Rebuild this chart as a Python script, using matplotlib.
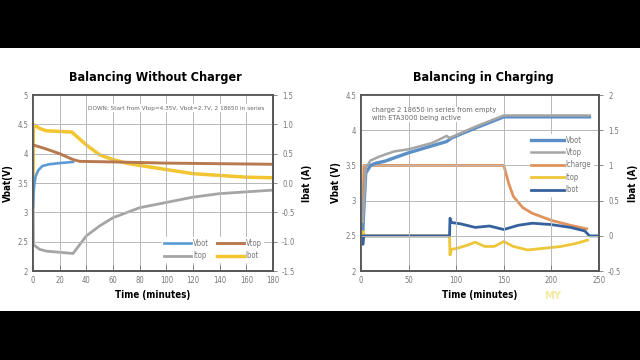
import matplotlib
matplotlib.use("Agg")
from matplotlib import pyplot as plt
from matplotlib.patches import Rectangle

plt.rcParams["font.family"] = ["Liberation Sans Narrow", "DejaVu Sans"]
plt.rcParams["font.stretch"] = "condensed"

# left chart: balancing without charger
t_vbot1 = [0, 0.5, 1, 2, 4, 7, 12, 20, 30]
vbot1 = [3.1, 3.35, 3.48, 3.62, 3.72, 3.79, 3.82, 3.84, 3.86]
t_vtop1 = [0, 10, 20, 30, 35, 60, 100, 140, 180]
vtop1 = [4.15, 4.08, 4.0, 3.9, 3.87, 3.86, 3.84, 3.83, 3.82]
t_itop1 = [0, 0.3, 5, 10, 20, 30, 40, 50, 60, 80, 100, 120, 140, 160, 180]
itop1 = [-0.05, -1.05, -1.13, -1.16, -1.18, -1.2, -0.9, -0.73, -0.59, -0.42,
         -0.33, -0.24, -0.18, -0.15, -0.12]
t_ibot1 = [0, 0.3, 5, 10, 20, 29, 40, 50, 60, 70, 80, 100, 120, 140, 160, 180]
ibot1 = [0.0, 1.0, 0.93, 0.89, 0.88, 0.87, 0.65, 0.48, 0.40, 0.34, 0.30,
         0.23, 0.16, 0.13, 0.10, 0.09]

# right chart: balancing in charging
t_vbot2 = [2, 5, 10, 15, 25, 50, 75, 90, 95, 120, 150, 240]
vbot2 = [2.6, 3.39, 3.5, 3.53, 3.56, 3.68, 3.78, 3.84, 3.89, 4.03, 4.19, 4.19]
t_vtop2 = [2, 5, 10, 20, 35, 50, 75, 90, 93, 120, 150, 240]
vtop2 = [2.7, 3.46, 3.57, 3.63, 3.7, 3.73, 3.82, 3.92, 3.89, 4.05, 4.21, 4.21]
t_ich2 = [2, 3, 150, 155, 160, 170, 180, 200, 220, 237]
ich2 = [0.2, 1.0, 1.0, 0.75, 0.56, 0.40, 0.32, 0.22, 0.15, 0.10]
t_itop2 = [1, 2, 3, 93, 93.5, 95, 100, 110, 120, 130, 140, 150, 160, 175,
           190, 210, 225, 238]
itop2 = [0.0, 0.15, 0.0, 0.0, -0.27, -0.19, -0.18, -0.14, -0.09, -0.15,
         -0.15, -0.08, -0.15, -0.2, -0.18, -0.15, -0.11, -0.06]
t_ibot2 = [0, 1.5, 2, 3, 93, 93.5, 95, 105, 120, 135, 150, 165, 180, 200,
           220, 235, 240, 250]
ibot2 = [0.0, 0.0, -0.12, 0.0, 0.0, 0.25, 0.19, 0.17, 0.12, 0.14, 0.09,
         0.15, 0.18, 0.16, 0.12, 0.07, 0.0, 0.0]

spine_c = "#555555"
tick_c = "#777777"
grid_c = "#b8b8b8"


def style(ax, ax2):
    for a in (ax, ax2):
        for s in a.spines.values():
            s.set_color(spine_c)
            s.set_linewidth(1.2)
        a.tick_params(labelsize=5.5, labelcolor=tick_c, colors=tick_c,
                      length=3, width=0.6)
    ax.tick_params(axis="y", length=0)
    ax.tick_params(axis="x", direction="in", length=4)
    ax.grid(True, color=grid_c, linewidth=0.7)
    ax.set_axisbelow(True)
    ax2.grid(False)
    # voltage axis (with the grid) drawn above the current axis
    ax.set_zorder(ax2.get_zorder() + 1)
    ax.patch.set_visible(False)


fig = plt.figure(figsize=(6.4, 3.6), dpi=100)
fig.patch.set_facecolor("black")
fig.patches.append(Rectangle((0, 0.136), 1, 0.731, transform=fig.transFigure,
                             facecolor="white", edgecolor="none", zorder=-10))

# ---- left ----
ax = fig.add_axes([0.0516, 0.247, 0.375, 0.489])
ax2 = ax.twinx()
ax.set_xlim(0, 180)
ax.set_ylim(2, 5)
ax2.set_ylim(-1.5, 1.5)
ax.set_xticks(range(0, 181, 20))
ax.set_yticks([2, 2.5, 3, 3.5, 4, 4.5, 5])
ax.set_yticklabels(["2", "2.5", "3", "3.5", "4", "4.5", "5"])
ax2.set_yticks([-1.5, -1.0, -0.5, 0, 0.5, 1.0, 1.5])
ax2.set_yticklabels(["-1.5", "-1.0", "-0.5", "0.0", "0.5", "1.0", "1.5"])
style(ax, ax2)

l1, = ax.plot(t_vbot1, vbot1, color="#5b9bd5", lw=1.9)
l2, = ax.plot(t_vtop1, vtop1, color="#b9794f", lw=2.1)
l3, = ax2.plot(t_itop1, itop1, color="#a5a5a5", lw=2.0)
l4, = ax2.plot(t_ibot1, ibot1, color="#f2c531", lw=2.5)

ax.text(0.965, 0.925, "DOWN: Start from Vtop=4.35V, Vbot=2.7V, 2 18650 in series",
        transform=ax.transAxes, ha="right", va="center", fontsize=4.6,
        color="#666666", zorder=1,
        bbox=dict(facecolor="white", edgecolor="none", pad=1))
ax.legend([l1, l3, l2, l4], ["Vbot", "Itop", "Vtop", "Ibot"], ncol=2,
          loc="lower right", bbox_to_anchor=(0.975, 0.03), fontsize=5.5,
          frameon=True, framealpha=1, edgecolor="white", handlelength=3.6,
          handletextpad=0.2, columnspacing=1.0, labelspacing=0.5,
          borderpad=0.2, labelcolor="#777777")
ax.set_xlabel("Time (minutes)", fontsize=7, fontweight="bold", labelpad=4)
ax.set_ylabel("Vbat(V)", fontsize=7, fontweight="bold", labelpad=3)
ax2.set_ylabel("Ibat (A)", fontsize=7, fontweight="bold", labelpad=5)
fig.text(0.242, 0.786, "Balancing Without Charger", ha="center", va="center",
         fontsize=9, fontweight="bold")

# ---- right ----
bx = fig.add_axes([0.564, 0.247, 0.372, 0.489])
bx2 = bx.twinx()
bx.set_xlim(0, 250)
bx.set_ylim(2, 4.5)
bx2.set_ylim(-0.5, 2)
bx.set_xticks(range(0, 251, 50))
bx.set_yticks([2, 2.5, 3, 3.5, 4, 4.5])
bx.set_yticklabels(["2", "2.5", "3", "3.5", "4", "4.5"])
bx2.set_yticks([-0.5, 0, 0.5, 1, 1.5, 2])
bx2.set_yticklabels(["-0.5", "0", "0.5", "1", "1.5", "2"])
style(bx, bx2)

r1, = bx.plot(t_vbot2, vbot2, color="#5b8fc7", lw=2.4)
r2, = bx.plot(t_vtop2, vtop2, color="#a5a5a5", lw=1.8)
r3, = bx2.plot(t_ich2, ich2, color="#e0935a", lw=2.0)
r4, = bx2.plot(t_itop2, itop2, color="#eec63a", lw=2.0)
r5, = bx2.plot(t_ibot2, ibot2, color="#35629e", lw=2.0)

bx.text(0.045, 0.93, "charge 2 18650 in series from empty\nwith ETA3000 being active",
        transform=bx.transAxes, ha="left", va="top", fontsize=5.3,
        color="#666666", linespacing=1.35, zorder=1,
        bbox=dict(facecolor="white", edgecolor="none", pad=0.5))
bx.legend([r1, r2, r3, r4, r5], ["Vbot", "Vtop", "Icharge", "Itop", "Ibot"],
          loc="upper right", bbox_to_anchor=(0.99, 0.8), fontsize=5.5,
          frameon=True, framealpha=1, edgecolor="white", handlelength=4.3,
          handletextpad=0.2, labelspacing=0.45, borderpad=0.2,
          labelcolor="#777777")
bx.set_xlabel("Time (minutes)", fontsize=7, fontweight="bold", labelpad=4)
bx.set_ylabel("Vbat (V)", fontsize=7, fontweight="bold", labelpad=3)
bx2.set_ylabel("Ibat (A)", fontsize=7, fontweight="bold", labelpad=5)
fig.text(0.755, 0.786, "Balancing in Charging", ha="center", va="center",
         fontsize=9, fontweight="bold")

fig.text(0.85, 0.17, "MY", fontsize=8, color="#f3eaa0", fontweight="bold")

fig.savefig("out.png", dpi=100, facecolor=fig.get_facecolor())
